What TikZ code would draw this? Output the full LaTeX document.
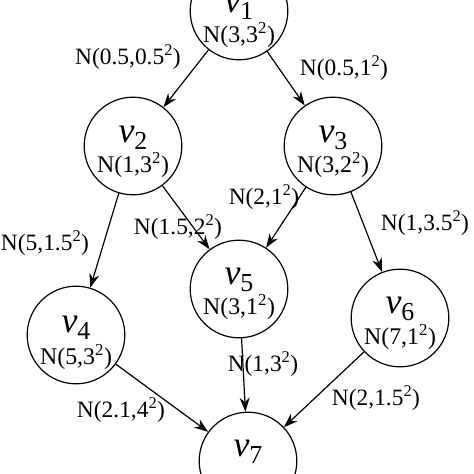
\documentclass[tikz,border=0pt]{standalone}
\usepackage{fontspec}
\setmainfont{Liberation Serif}
\usetikzlibrary{arrows.meta}

\newcommand{\vname}[1]{{\itshape v}\raisebox{-0.2em}{\fontsize{26}{28}\selectfont #1}}

\begin{document}
\begin{tikzpicture}[
  x=1bp,
  y=-1bp,
  line cap=round,
  line join=round,
  >={Stealth[length=14,width=10]},
  var/.style={draw=black, circle, line width=1.2, minimum size=98, inner sep=0},
  vtext/.style={font=\fontsize{36}{36}\selectfont, inner sep=0},
  dtext/.style={font=\fontsize{24}{26}\selectfont, inner sep=0},
  arrow/.style={draw=black, line width=1.2, ->},
  label/.style={font=\fontsize{23.5}{26}\selectfont, inner sep=0}
]
\path[use as bounding box] (0,0) rectangle (474,474);
\fill[white] (0,0) rectangle (474,474);

% Variables
\node[var] (v1) at (239,11) {};
\node[vtext] (t1) at (239,8) {\vname{1}};
\node[dtext] (d1) at (239,35) {N(3,3\textsuperscript{2})};

\node[var] (v2) at (133,146) {};
\node[vtext] (t2) at (133,138) {\vname{2}};
\node[dtext] (d2) at (133,165) {N(1,3\textsuperscript{2})};

\node[var] (v3) at (333,146) {};
\node[vtext] (t3) at (333,138) {\vname{3}};
\node[dtext] (d3) at (333,165) {N(3,2\textsuperscript{2})};

\node[var] (v4) at (76,335) {};
\node[vtext] (t4) at (76,328) {\vname{4}};
\node[dtext] (d4) at (76,357) {N(5,3\textsuperscript{2})};

\node[var] (v5) at (239,289) {};
\node[vtext] (t5) at (239,280) {\vname{5}};
\node[dtext] (d5) at (239,307) {N(3,1\textsuperscript{2})};

\node[var] (v6) at (400,318) {};
\node[vtext] (t6) at (400,309) {\vname{6}};
\node[dtext] (d6) at (400,337) {N(7,1\textsuperscript{2})};

\node[var] (v7) at (248,461) {};
\node[vtext] (t7) at (248,452) {\vname{7}};

% Edges
\draw[arrow] (v1) -- (v2);
\draw[arrow] (v1) -- (v3);
\draw[arrow] (v2) -- (v4);
\draw[arrow] (v2) -- (v5);
\draw[arrow] (v3) -- (v5);
\draw[arrow] (v3) -- (v6);
\draw[arrow] (v4) -- (v7);
\draw[arrow] (v5) -- (v7);
\draw[arrow] (v6) -- (v7);

% Edge labels
\node[label] (l12) at (128,57) {N(0.5,0.5\textsuperscript{2})};
\node[label] (l13) at (344,68) {N(0.5,1\textsuperscript{2})};
\node[label] (l24) at (45,243) {N(5,1.5\textsuperscript{2})};
\node[label] (l25) at (178,227) {N(1.5,2\textsuperscript{2})};
\node[label] (l35) at (264,197) {N(2,1\textsuperscript{2})};
\node[label] (l36) at (425,223) {N(1,3.5\textsuperscript{2})};
\node[label] (l47) at (121,410) {N(2.1,4\textsuperscript{2})};
\node[label] (l57) at (263,364) {N(1,3\textsuperscript{2})};
\node[label] (l67) at (376,398) {N(2,1.5\textsuperscript{2})};

\end{tikzpicture}
\end{document}
